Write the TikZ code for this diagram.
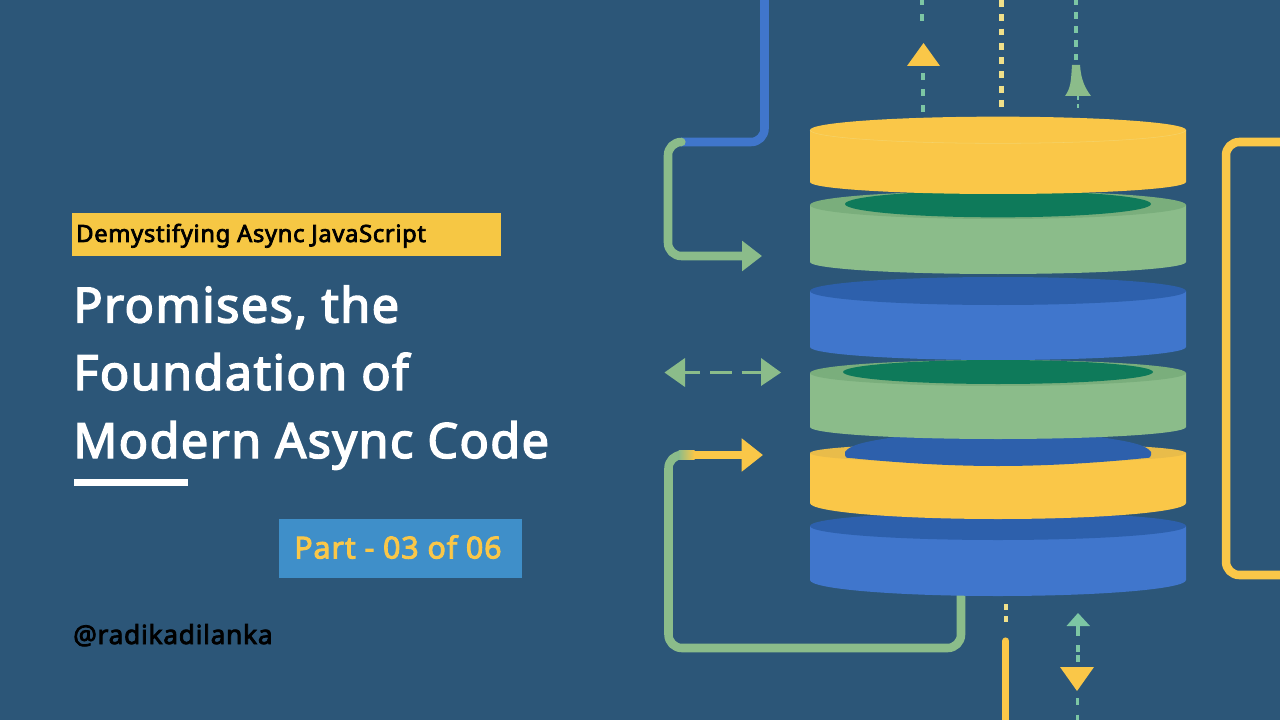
\documentclass[tikz,border=0pt]{standalone}
\usepackage{fontspec}
\setmainfont{Noto Sans}
\newfontfamily\heavy{Noto Sans}[FakeBold=3,LetterSpace=2.8]
\usetikzlibrary{arrows.meta}
\definecolor{bgc}{HTML}{2C5678}
\definecolor{ylw}{HTML}{FAC748}
\definecolor{ylwtop}{HTML}{E9BC4A}
\definecolor{grn}{HTML}{8BBC8A}
\definecolor{grntop}{HTML}{7AAE7C}
\definecolor{dgrn}{HTML}{0E7A5A}
\definecolor{blu}{HTML}{4076CC}
\definecolor{blutop}{HTML}{2D60AC}
\definecolor{teal}{HTML}{7CC6A4}
\definecolor{pale}{HTML}{F0E08A}
\definecolor{partbox}{HTML}{3F8FC9}
\definecolor{tagy}{HTML}{F6C744}
% #1 side colour, #2 top colour, #3 side top y, #4 side bottom y, #5 top ry (px), #6 bottom ry (px)
\newcommand{\stackdisc}[6]{%
  \fill[#1] (810,#3) -- (810,#4) arc[start angle=180,end angle=360,x radius=141pt,y radius=#6*0.75pt] -- (1186,#3) -- cycle;
  \fill[#2] (998,#3) ellipse[x radius=141pt,y radius=#5*0.75pt];
}
\tikzset{
  pipe/.style={line width=6.4pt,line join=round,rounded corners=10pt},
  wire/.style={line width=2.6pt,teal},
  head/.style={-{Triangle[length=15pt,width=22pt]}},
  bighead/.style={-{Triangle[length=16pt,width=24pt]}},
  title/.style={anchor=base west,inner sep=0pt,text=white,font=\heavy\fontsize{36.5}{40}\selectfont},
}
\begin{document}
\begin{tikzpicture}[x=0.75pt,y=-0.75pt]
\useasboundingbox (0,0) rectangle (1280,720);
\fill[bgc] (0,0) rectangle (1280,720);

% named ends of the connectors
\coordinate (blueTop) at (764.5,-6);
\coordinate (blueEnd) at (681,142);
\coordinate (inTip) at (762,256);
\coordinate (rightTop) at (1290,142);
\coordinate (rightBot) at (1290,575);
\coordinate (discOut) at (961,590);
\coordinate (loopMid) at (679,455);
\coordinate (loopYel) at (694,455);
\coordinate (loopTip) at (763,455);

% connectors behind the stack
\draw[pipe,ylw] (rightTop) -- (1226,142) -- (1226,575) -- (rightBot);
\draw[pipe,blu] (blueTop) -- (764.5,142) -- (blueEnd);
\draw[pipe,grn] (blueEnd) -- (668,142) -- (668,256) -- (745,256);
\draw[line width=6.4pt,grn,head] (738,256) -- (inTip);
\draw[pipe,grn] (discOut) -- (961,648) -- (668.5,648) -- (668.5,455) -- (loopMid);
\shade[left color=grn,right color=ylw] (678.5,450.73) rectangle (694.5,459.27);
\draw[line width=6.4pt,ylw,bighead] (loopYel) -- (loopTip);

% stack
\stackdisc{blu}{blutop}{526}{580}{14}{16}
\stackdisc{ylw}{ylwtop}{453}{503}{10}{16}
\fill[blutop] (845,452) .. controls (850,444) and (870,441) .. (895,437) -- (1100,437) .. controls (1125,441) and (1146,444) .. (1151,452) -- (1151,455) .. controls (1151,457) and (1150,458) .. (1146,458) .. controls (1096,463) and (1046,466) .. (998,466) .. controls (950,466) and (900,463) .. (850,458) .. controls (846,458) and (845,457) .. (845,455) -- cycle;
\stackdisc{blu}{blutop}{291}{347}{14}{13}
\stackdisc{grn}{grntop}{373}{427}{13}{12}
\fill[dgrn] (998,372) ellipse[x radius=116.25pt,y radius=9pt];
\stackdisc{grn}{grntop}{205}{262}{14}{12}
\fill[dgrn] (998,204) ellipse[x radius=114.75pt,y radius=10pt];
\fill[ylw] (810,130) -- (810,182) arc[start angle=180,end angle=360,x radius=141pt,y radius=9pt] -- (1186,130) arc[start angle=0,end angle=180,x radius=141pt,y radius=10pt] -- cycle;
\draw[line width=0.4pt,pale!50!ylw] (810,130) arc[start angle=180,end angle=360,x radius=141pt,y radius=10pt];

% top dashed wires
\coordinate (a1) at (922,-2); \coordinate (a2) at (922,21);
\coordinate (a3) at (923,73); \coordinate (a4) at (923,112);
\draw[wire,dash pattern=on 5.5pt off 6.5pt] (a1) -- (a2);
\draw[wire,dash pattern=on 5.5pt off 6.5pt] (a3) -- (a4);
\fill[ylw] (907,66) -- (923.5,43) -- (940,66) -- cycle;
\coordinate (b1) at (1001.5,0); \coordinate (b2) at (1001.5,108);
\draw[line width=3.2pt,pale,dash pattern=on 5.2pt off 5.5pt] (b1) -- (b2);
\coordinate (c1) at (1076,-2); \coordinate (c2) at (1076,60);
\draw[wire,dash pattern=on 5pt off 5.5pt] (c1) -- (c2);
\fill[grn] (1072,65) -- (1080,65) .. controls (1081,80) and (1085,88) .. (1091,96) -- (1065,96) .. controls (1071,88) and (1071,80) .. (1072,65) -- cycle;
\coordinate (c3) at (1078,96); \coordinate (c4) at (1078,111);
\draw[line width=1.8pt,teal,dash pattern=on 3pt off 3pt] (c3) -- (c4);

% double arrow
\coordinate (dL) at (664.5,372.5); \coordinate (dR) at (781,372.5);
\draw[line width=2.8pt,grn,dash pattern=on 11pt off 8pt on 16pt off 7.5pt on 20pt] (685,372.5) -- (765,372.5);
\fill[grn] (dL) -- (685,358) -- (685,387) -- cycle;
\fill[grn] (dR) -- (761,358) -- (761,386) -- cycle;

% lower right
\coordinate (e1) at (1006,604); \coordinate (e2) at (1006,623);
\draw[line width=3.4pt,pale,dash pattern=on 4.5pt off 4.8pt] (e1) -- (e2);
\coordinate (f1) at (1005.7,641); \coordinate (f2) at (1005.7,724);
\draw[line width=5.4pt,ylw,line cap=round] (f1) -- (f2);
\fill[teal] (1078,613) -- (1090,626) -- (1066.5,626) -- cycle;
\coordinate (g1) at (1078,625); \coordinate (g2) at (1078,636);
\draw[wire] (g1) -- (g2);
\coordinate (g3) at (1078,645); \coordinate (g4) at (1078,663);
\draw[wire,dash pattern=on 5.5pt off 2pt] (g3) -- (g4);
\fill[ylw] (1060,667) -- (1094,667) -- (1077,691) -- cycle;
\coordinate (g5) at (1077.5,698); \coordinate (g6) at (1077.5,722);
\draw[wire,dash pattern=on 5.5pt off 7pt] (g5) -- (g6);

% left column
\fill[tagy] (72,213) rectangle (501,255.5);
\node[anchor=base west,inner sep=0pt,text=black,font=\heavy\fontsize{17.8}{20}\selectfont] (tag) at (76,242) {Demystifying Async JavaScript};
\node[title] (t1) at (73,322.5) {Promises, the};
\node[title] (t2) at (73,390) {Foundation of};
\node[title] (t3) at (73,458) {Modern Async Code};
\fill[white] (74,478.5) rectangle (187.5,485.5);
\fill[partbox] (279,519) rectangle (521.5,578);
\node[anchor=base west,inner sep=0pt,text=ylw,font=\heavy\fontsize{22.8}{24}\selectfont] (part) at (294,558.5) {Part - 03 of 06};
\node[anchor=base west,inner sep=0pt,text=black,font=\heavy\fontsize{19.7}{22}\selectfont] (handle) at (73,644) {@radikadilanka};
\end{tikzpicture}
\end{document}
